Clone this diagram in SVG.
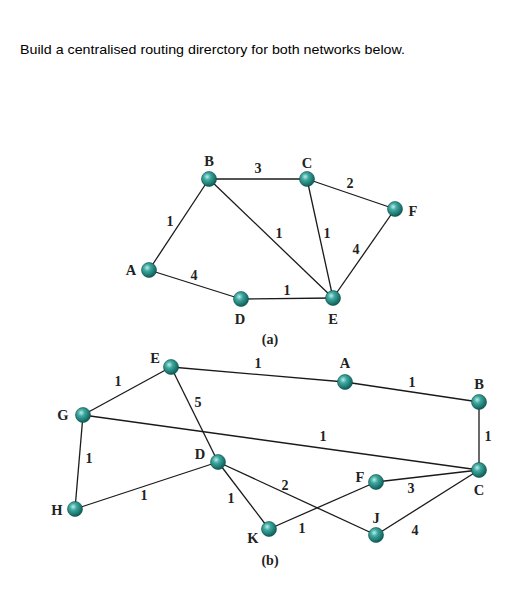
<svg xmlns="http://www.w3.org/2000/svg" width="511" height="597" viewBox="0 0 511 597">
<defs>
<radialGradient id="ball" cx="0.38" cy="0.35" r="0.65">
<stop offset="0" stop-color="#bfeeea"/>
<stop offset="0.35" stop-color="#3fa9a0"/>
<stop offset="1" stop-color="#0d5f5a"/>
</radialGradient>
<style>
.title{font-family:"Liberation Sans",Arial,sans-serif;font-size:13.5px;fill:#000}
.lbl{font-family:"Liberation Serif","Times New Roman",serif;font-weight:bold;font-size:14.5px;fill:#222;text-anchor:middle}
.w{font-family:"Liberation Serif","Times New Roman",serif;font-weight:bold;font-size:14px;fill:#222;text-anchor:middle}
.e{stroke:#1a1a1a;stroke-width:1.3;fill:none}
.n{fill:url(#ball);stroke:#0b4f4a;stroke-width:0.6}
</style>
</defs>
<rect width="511" height="597" fill="#fff"/>
<text class="title" x="20" y="54" textLength="385" lengthAdjust="spacingAndGlyphs">Build a centralised routing direrctory for both networks below.</text>

<g id="edges-a">
<line class="e" x1="209" y1="179" x2="307" y2="179"/>
<line class="e" x1="307" y1="179" x2="395" y2="209"/>
<line class="e" x1="209" y1="179" x2="149" y2="270"/>
<line class="e" x1="209" y1="179" x2="333" y2="298"/>
<line class="e" x1="307" y1="179" x2="333" y2="298"/>
<line class="e" x1="395" y1="209" x2="333" y2="298"/>
<line class="e" x1="149" y1="270" x2="241" y2="299"/>
<line class="e" x1="241" y1="299" x2="333" y2="298"/>
<text class="w" x="258" y="173">3</text>
<text class="w" x="350" y="188">2</text>
<text class="w" x="170" y="226">1</text>
<text class="w" x="279" y="238">1</text>
<text class="w" x="327" y="238">1</text>
<text class="w" x="356" y="254">4</text>
<text class="w" x="194" y="280">4</text>
<text class="w" x="287" y="295">1</text>
<text class="w" x="270" y="344">(a)</text>
</g>
<g id="a-B"><circle class="n" cx="209" cy="179" r="7.5"/><text class="lbl" x="209" y="166">B</text></g>
<g id="a-C"><circle class="n" cx="307" cy="179" r="7.5"/><text class="lbl" x="307" y="168">C</text></g>
<g id="a-F"><circle class="n" cx="395" cy="209" r="7.5"/><text class="lbl" x="413" y="216">F</text></g>
<g id="a-A"><circle class="n" cx="149" cy="270" r="7.5"/><text class="lbl" x="131" y="275">A</text></g>
<g id="a-D"><circle class="n" cx="241" cy="299" r="7.5"/><text class="lbl" x="240" y="324">D</text></g>
<g id="a-E"><circle class="n" cx="333" cy="298" r="7.5"/><text class="lbl" x="333" y="324">E</text></g>

<g id="edges-b">
<line class="e" x1="171" y1="367" x2="83" y2="415"/>
<line class="e" x1="171" y1="367" x2="345" y2="382"/>
<line class="e" x1="171" y1="367" x2="218" y2="462"/>
<line class="e" x1="83" y1="415" x2="75" y2="509"/>
<line class="e" x1="83" y1="415" x2="479" y2="470"/>
<line class="e" x1="75" y1="509" x2="218" y2="462"/>
<line class="e" x1="218" y1="462" x2="269" y2="529"/>
<line class="e" x1="218" y1="462" x2="376" y2="535"/>
<line class="e" x1="345" y1="382" x2="479" y2="402"/>
<line class="e" x1="479" y1="402" x2="479" y2="470"/>
<line class="e" x1="376" y1="482" x2="479" y2="470"/>
<line class="e" x1="376" y1="535" x2="479" y2="470"/>
<line class="e" x1="269" y1="529" x2="376" y2="482"/>
<text class="w" x="118" y="386">1</text>
<text class="w" x="258" y="368">1</text>
<text class="w" x="198" y="407">5</text>
<text class="w" x="89" y="463">1</text>
<text class="w" x="144" y="500">1</text>
<text class="w" x="231" y="503">1</text>
<text class="w" x="285" y="490">2</text>
<text class="w" x="412" y="387">1</text>
<text class="w" x="488" y="441">1</text>
<text class="w" x="323" y="441">1</text>
<text class="w" x="411" y="493">3</text>
<text class="w" x="415" y="535">4</text>
<text class="w" x="302" y="533">1</text>
<text class="w" x="270" y="565">(b)</text>
</g>
<g id="b-E"><circle class="n" cx="171" cy="367" r="7.5"/><text class="lbl" x="155" y="363">E</text></g>
<g id="b-G"><circle class="n" cx="83" cy="415" r="7.5"/><text class="lbl" x="63" y="420">G</text></g>
<g id="b-D"><circle class="n" cx="218" cy="462" r="7.5"/><text class="lbl" x="200" y="459">D</text></g>
<g id="b-H"><circle class="n" cx="75" cy="509" r="7.5"/><text class="lbl" x="57" y="515">H</text></g>
<g id="b-K"><circle class="n" cx="269" cy="529" r="7.5"/><text class="lbl" x="253" y="543">K</text></g>
<g id="b-A"><circle class="n" cx="345" cy="382" r="7.5"/><text class="lbl" x="345" y="368">A</text></g>
<g id="b-B"><circle class="n" cx="479" cy="402" r="7.5"/><text class="lbl" x="479" y="389">B</text></g>
<g id="b-C"><circle class="n" cx="479" cy="470" r="7.5"/><text class="lbl" x="479" y="495">C</text></g>
<g id="b-F"><circle class="n" cx="376" cy="482" r="7.5"/><text class="lbl" x="360" y="482">F</text></g>
<g id="b-J"><circle class="n" cx="376" cy="535" r="7.5"/><text class="lbl" x="376" y="523">J</text></g>
</svg>
